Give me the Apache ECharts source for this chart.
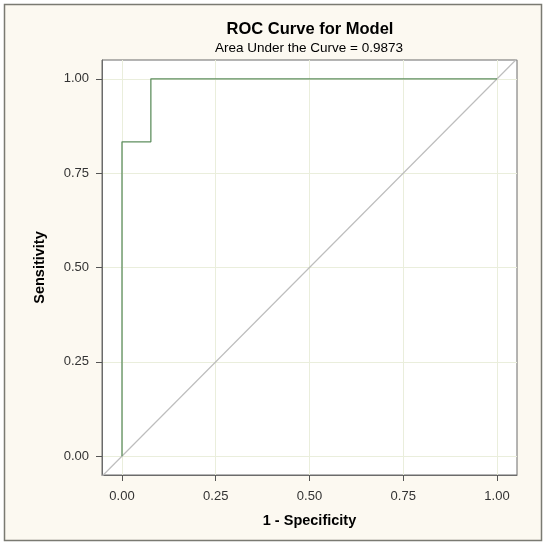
<!DOCTYPE html>
<html><head><meta charset="utf-8">
<script src="https://cdn.jsdelivr.net/npm/echarts@6/dist/echarts.min.js"></script>
<style>html,body{margin:0;padding:0;background:#fff}#c{width:550px;height:550px}</style>
</head><body><div id="c"></div>
<script>
const titleText = 'ROC Curve for Model';
const subtitleText = 'Area Under the Curve = 0.9873';
const xAxisTitle = '1 - Specificity';
const yAxisTitle = 'Sensitivity';
const tickValues = [0, 0.25, 0.5, 0.75, 1];
const rocFpr = [0, 0, 0.077, 0.077, 1];
const rocTpr = [0, 0.833, 0.833, 1, 1];
const diagX = [-0.1, 1.1];
const diagY = [-0.1, 1.1];

const chart = echarts.init(document.getElementById('c'));
const font = '"Liberation Sans", Arial, sans-serif';
const fmt = v => v.toFixed(2);
chart.setOption({
  animation: false,
  backgroundColor: '#fff',
  graphic: [{type:'rect', shape:{x:4.5,y:4.5,width:537,height:536}, style:{fill:'#FCF9F1', stroke:'#7a7a72', lineWidth:1.5}, z:-10}],
  title: [
    {text: titleText, left: 305, top: 16, textAlign: 'center', textStyle:{fontFamily:font, fontSize:16.5, fontWeight:'bold', color:'#000'}},
    {text: subtitleText, left: 304, top: 36, textAlign: 'center', textStyle:{fontFamily:font, fontSize:13.5, fontWeight:'normal', color:'#000'}}
  ],
  grid: {left:102, right:33, top:60, bottom:75, show:true, backgroundColor:'#fff', borderColor:'#6b6b6b', borderWidth:1},
  xAxis: {
    type:'value', min:-0.0533, max:1.0533,
    name: xAxisTitle, nameLocation:'middle', nameGap:38,
    nameTextStyle:{fontFamily:font, fontSize:14.5, fontWeight:'bold', color:'#000'},
    axisLine:{show:true, onZero:false, lineStyle:{color:'#6b6b6b'}},
    axisTick:{show:true, inside:false, customValues: tickValues, length:6, lineStyle:{color:'#555', width:1}},
    axisLabel:{customValues: tickValues, formatter: fmt, fontFamily:font, fontSize:13, color:'#333', margin:15},
    splitLine:{show:true, lineStyle:{color:'#EAEEDC'}}
  },
  yAxis: {
    type:'value', min:-0.05, max:1.05,
    name: yAxisTitle, nameLocation:'middle', nameGap:55, nameRotate:90,
    nameTextStyle:{fontFamily:font, fontSize:14.5, fontWeight:'bold', color:'#000'},
    axisLine:{show:true, onZero:false, lineStyle:{color:'#6b6b6b'}},
    axisTick:{show:true, inside:false, customValues: tickValues, length:6, lineStyle:{color:'#555', width:1}},
    axisLabel:{customValues: tickValues, formatter: fmt, fontFamily:font, fontSize:13, color:'#333', margin:13},
    splitLine:{show:true, lineStyle:{color:'#EAEEDC'}}
  },
  series: [
    {type:'line', data: diagX.map((x,i)=>[x, diagY[i]]), showSymbol:false, clip:true,
     lineStyle:{color:'#BDBDBD', width:1.3}, z:2, silent:true},
    {type:'line', data: rocFpr.map((x,i)=>[x, rocTpr[i]]), showSymbol:false, clip:true,
     lineStyle:{color:'#5F8F5F', width:1.3}, z:3, silent:true}
  ]
});
</script></body></html>
